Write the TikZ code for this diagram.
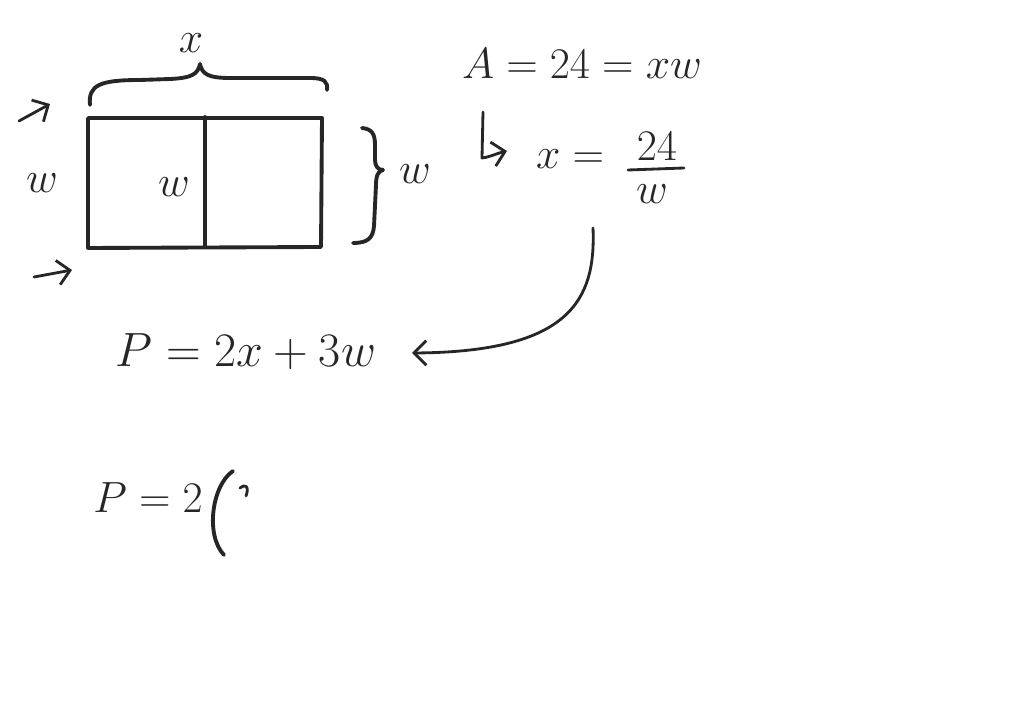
\documentclass[tikz,border=0pt]{standalone}
\usetikzlibrary{arrows.meta}
\begin{document}
\begin{tikzpicture}[x=0.02cm,y=-0.02cm,
  ink/.style={line width=2.2pt,draw=black!85,line cap=round,line join=round},
  thin ink/.style={line width=1.6pt,draw=black!85,line cap=round,line join=round},
  hand/.style={text=black!85,font=\fontsize{24}{28}\selectfont,inner sep=0pt},
  barb/.style={-{Straight Barb[length=7pt,width=14pt,line width=1.6pt]}}]
\fill[white] (0,0) rectangle (1024,712);
\useasboundingbox (0,0) rectangle (1024,712);
% rectangle with divider
\coordinate (tl) at (88,118);
\coordinate (br) at (322,247);
\draw[ink] (88,118) -- (322,118) -- (321,247) -- (88,248) -- cycle;
\draw[ink] (205,117) -- (205,247);
% top brace
\draw[ink] (90,105) .. controls (88,85) and (100,80) .. (140,80) -- (170,79)
  .. controls (192,78) and (198,74) .. (200,64) .. controls (202,74) and (208,78) .. (230,78)
  -- (310,78) .. controls (325,78) and (328,82) .. (327,90);
\node[hand] (xlab) at (191,43) {$x$};
% right brace
\draw[ink] (362,128) .. controls (372,129) and (375,134) .. (375,145) -- (375,160)
  .. controls (375,166) and (378,170) .. (383,170) .. controls (378,171) and (376,176) .. (376,185)
  -- (374,226) .. controls (373,238) and (368,243) .. (353,243);
\node[hand] (wr) at (415,174) {$w$};
\node[hand] (wl) at (42,183) {$w$};
\node[hand] (wm) at (174,187) {$w$};
% small arrows on the left
\coordinate (a1s) at (19,121);
\coordinate (a1e) at (50,104);
\draw[thin ink,barb] (a1s) -- (a1e);
\coordinate (a2s) at (34,277);
\coordinate (a2e) at (72,270);
\draw[thin ink,barb] (a2s) -- (a2e);
% area equation
\node[hand] (area) at (582,64) {$A = 24 = xw$};
\node[hand] (xeq) at (570,159) {$x =$};
\node[hand] (num) at (657,146) {$24$};
\node[hand] (den) at (652,194) {$w$};
\draw[thin ink] (628,170) -- (684,168);
\coordinate (h1) at (483,112);
\coordinate (h2) at (507,151);
\draw[thin ink,barb] (h1) -- (482,158) .. controls (490,157) and (498,153) .. (h2);
% perimeter
\node[hand,scale=1.1] (perim) at (246,352) {$P = 2x + 3w$};
\coordinate (cs) at (593,228);
\draw[thin ink,barb] (cs) .. controls (596,300) and (570,352) .. (412,353);
% last line
\node[hand] (p2) at (148,498) {$P = 2$};
\draw[ink] (233,471) .. controls (212,485) and (205,535) .. (224,555);
\draw[thin ink] (240,488) .. controls (244,484) and (250,485) .. (246,496);
\end{tikzpicture}
\end{document}
